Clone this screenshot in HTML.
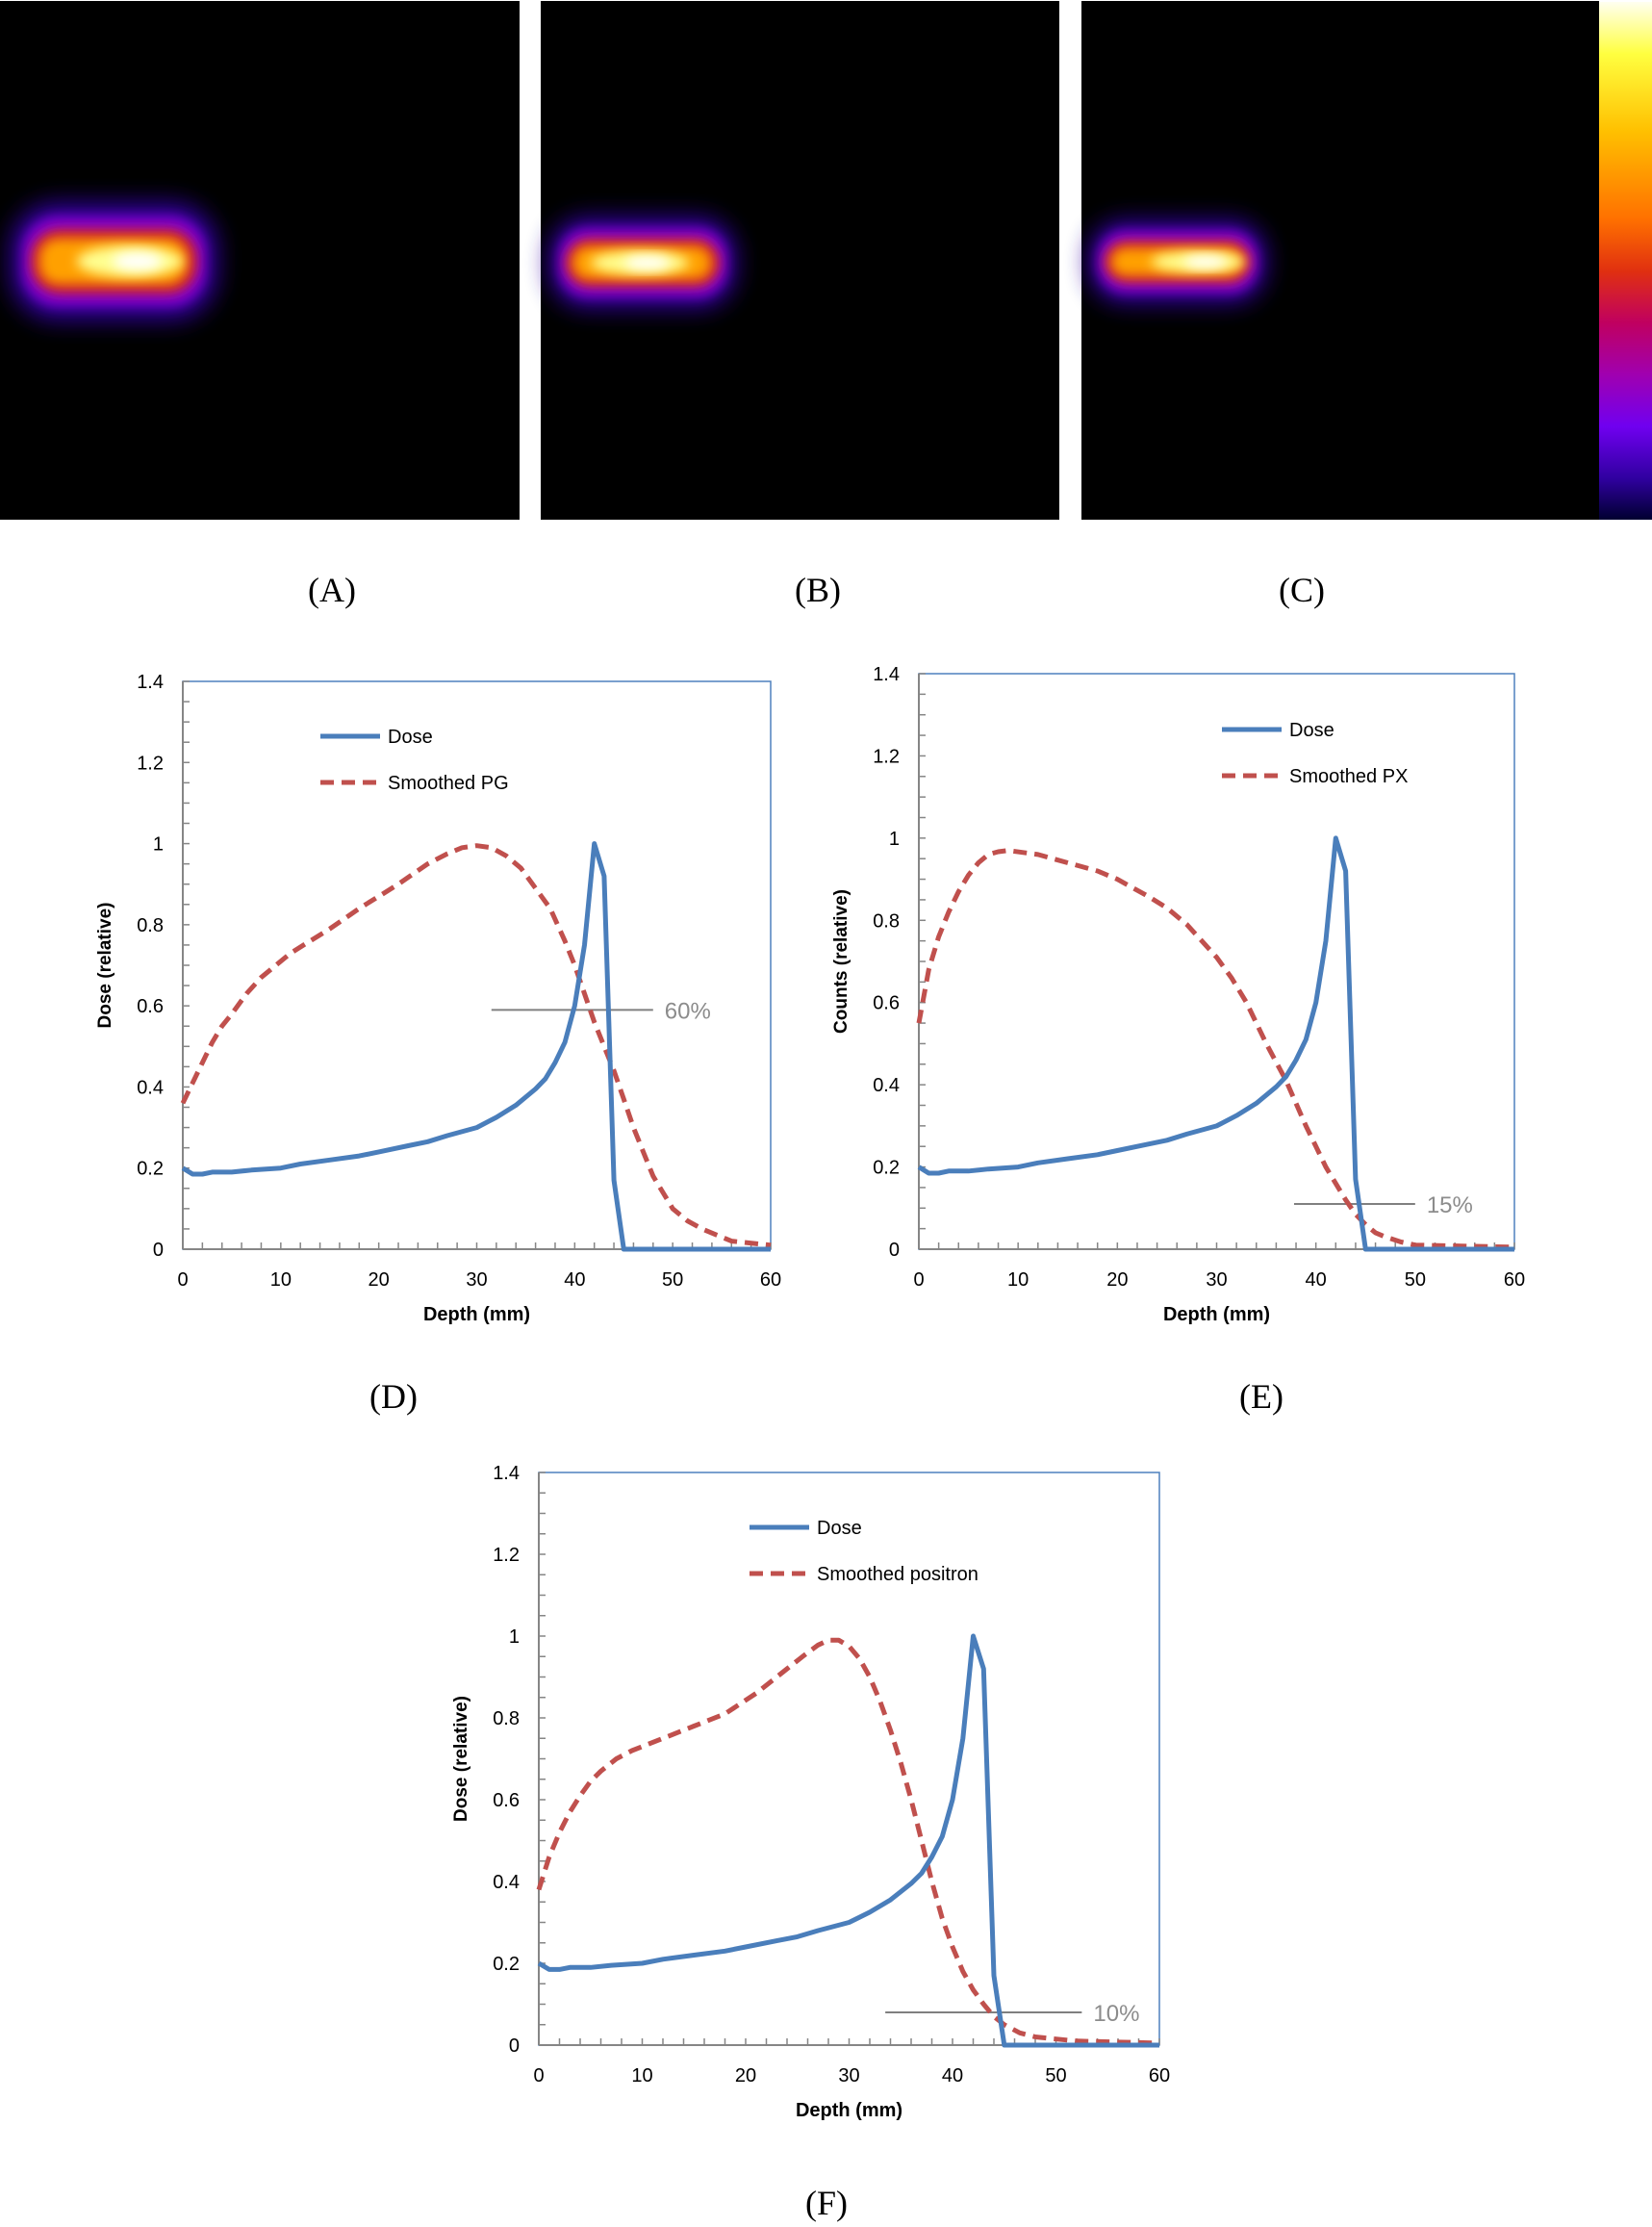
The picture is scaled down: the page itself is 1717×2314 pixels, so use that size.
<!DOCTYPE html>
<html><head><meta charset="utf-8"><style>
body{margin:0;background:#fff;width:1717px;height:2314px;overflow:hidden;position:relative;font-family:"Liberation Serif",serif}
.lab{position:absolute;font-size:36px;transform:translateX(-50%)}
svg{position:absolute;left:0;top:0}
</style></head><body>
<svg width="1717" height="2314" id="s" xmlns="http://www.w3.org/2000/svg">
<defs>
<filter id="b1" x="-50%" y="-50%" width="200%" height="200%"><feGaussianBlur stdDeviation="12"/></filter>
<filter id="b2" x="-50%" y="-50%" width="200%" height="200%"><feGaussianBlur stdDeviation="6"/></filter>
<linearGradient id="cb" x1="0" y1="0" x2="0" y2="1">
<stop offset="0" stop-color="#fffff0"/><stop offset="0.1" stop-color="#ffff40"/><stop offset="0.25" stop-color="#ffc000"/><stop offset="0.42" stop-color="#ff7000"/><stop offset="0.52" stop-color="#e03010"/><stop offset="0.62" stop-color="#c00060"/><stop offset="0.72" stop-color="#a000b0"/><stop offset="0.82" stop-color="#7000f0"/><stop offset="0.92" stop-color="#3000a0"/><stop offset="1" stop-color="#000030"/></linearGradient>
</defs>
<rect x="0" y="1" width="540" height="539" fill="#000"/>
<rect x="562" y="1" width="539" height="539" fill="#000"/>
<rect x="1124" y="1" width="538" height="539" fill="#000"/>
<rect x="1662" y="2" width="55" height="538" fill="url(#cb)"/>
<g id="heat"></g>
</svg>
<div class="lab" style="left:345px;top:592px">(A)</div>
<div class="lab" style="left:850px;top:592px">(B)</div>
<div class="lab" style="left:1353px;top:592px">(C)</div>
<div class="lab" style="left:409px;top:1430px">(D)</div>
<div class="lab" style="left:1311px;top:1430px">(E)</div>
<div class="lab" style="left:859px;top:2268px">(F)</div>
<script>
var NS="http://www.w3.org/2000/svg",S=document.getElementById('s');
function el(t,a,p,txt){if(typeof p==='string'){txt=p;p=null;}var e=document.createElementNS(NS,t);for(var k in a)e.setAttribute(k,a[k]);if(txt!=null)e.textContent=txt;(p||S).appendChild(e);return e;}
var H=document.getElementById('heat');
function blob(x0,x1,y0,y1,cx,s){
 el('rect',{x:x0-20*s,y:y0-26*s,width:x1-x0+40*s,height:y1-y0+52*s,rx:45*s,fill:'#3000a0',filter:'url(#b1)',opacity:0.9},H);
 el('rect',{x:x0-8*s,y:y0-12*s,width:x1-x0+16*s,height:y1-y0+24*s,rx:34*s,fill:'#8000d0',filter:'url(#b2)'},H);
 el('rect',{x:x0,y:y0,width:x1-x0,height:y1-y0,rx:28*s,fill:'#d02020',filter:'url(#b2)'},H);
 el('rect',{x:x0+8*s,y:y0+9*s,width:x1-x0-18*s,height:y1-y0-18*s,rx:18*s,fill:'#ffa000',filter:'url(#b2)'},H);
 el('ellipse',{cx:cx,cy:(y0+y1)/2,rx:(x1-x0)*0.32,ry:(y1-y0)*0.24,fill:'#ffff90',filter:'url(#b2)'},H);
 el('ellipse',{cx:cx+8,cy:(y0+y1)/2,rx:(x1-x0)*0.15,ry:(y1-y0)*0.14,fill:'#fff',filter:'url(#b2)'},H);
}
blob(32,205,238,305,135,1.1);
blob(588,748,248,298,665,0.9);
blob(1148,1300,250,294,1245,0.85);
var dose=[[0,.2],[1,.185],[2,.185],[3,.19],[5,.19],[7,.195],[10,.2],[12,.21],[15,.22],[18,.23],[20,.24],[23,.255],[25,.265],[27,.28],[30,.3],[32,.325],[34,.355],[36,.395],[37,.42],[38,.46],[39,.51],[40,.6],[41,.75],[42,1.0],[43,.92],[44,.17],[45,0],[60,0]];
var pg=[[0,.36],[1,.41],[2,.46],[3,.51],[4,.55],[5,.58],[6.5,.63],[8,.67],[9.5,.70],[11,.73],[13,.76],[15,.79],[18,.84],[20,.87],[22,.9],[25,.95],[27,.975],[28.5,.99],[30,.995],[31.5,.99],[33,.97],[34.5,.94],[36,.89],[37.5,.84],[39,.76],[40,.7],[41,.63],[42,.56],[43,.5],[44,.44],[45,.37],[46,.3],[47,.24],[48,.18],[49,.14],[50,.1],[51.5,.07],[53,.05],[56,.02],[60,.01]];
var px=[[0,.55],[1,.68],[2,.76],[3,.82],[4,.87],[5,.91],[6,.94],[7,.96],[8,.967],[9,.97],[12,.96],[15,.94],[18,.92],[20,.9],[23,.86],[25,.83],[27,.79],[28.5,.75],[30,.71],[31.5,.66],[33,.6],[34,.55],[35,.5],[36,.455],[37,.41],[38,.355],[39,.3],[40,.25],[41,.2],[42,.16],[43,.12],[44,.085],[45,.06],[46,.04],[47,.03],[48.5,.018],[50,.01],[60,.005]];
var po=[[0,.38],[1,.46],[2,.52],[3,.57],[4,.61],[5,.645],[6,.67],[7.5,.7],[9,.72],[12,.75],[15,.78],[18,.81],[21,.86],[22.5,.89],[24,.92],[25.5,.95],[27,.978],[28,.99],[29,.99],[30,.975],[31,.945],[32,.9],[33,.84],[34,.77],[35,.69],[36,.6],[37,.5],[38,.4],[39,.31],[40,.24],[41,.18],[42,.135],[43,.1],[44,.07],[45,.05],[46.5,.03],[48,.02],[52,.01],[60,.005]];
function chart(L,T,R,B,ytitle,red,redName,refY,refX0,refX1,refTxt,lgx,lgy){
 var sx=function(x){return L+(R-L)*x/60},sy=function(y){return B-(B-T)*y/1.4};
 el('rect',{x:L,y:T,width:R-L,height:B-T,fill:'none',stroke:'#4f81bd','stroke-width':1.5});
 el('line',{x1:L,y1:T,x2:L,y2:B,stroke:'#868686','stroke-width':2});
 el('line',{x1:L,y1:B,x2:R,y2:B,stroke:'#868686','stroke-width':2});
 for(var i=0;i<=28;i++){var y=sy(i*0.05);el('line',{x1:L,y1:y,x2:L+7,y2:y,stroke:'#868686','stroke-width':1.5});}
 for(var i=0;i<=30;i++){var x=sx(i*2);el('line',{x1:x,y1:B,x2:x,y2:B-7,stroke:'#868686','stroke-width':1.5});}
 var yl=['0','0.2','0.4','0.6','0.8','1','1.2','1.4'];
 for(var i=0;i<8;i++)el('text',{x:L-20,y:sy(i*0.2)+7,'text-anchor':'end','font-family':'Liberation Sans, sans-serif','font-size':20,fill:'#000'},null,yl[i]);
 for(var i=0;i<=6;i++)el('text',{x:sx(i*10),y:B+38,'text-anchor':'middle','font-family':'Liberation Sans, sans-serif','font-size':20,fill:'#000'},null,String(i*10));
 el('text',{x:(L+R)/2,y:B+74,'text-anchor':'middle','font-family':'Liberation Sans, sans-serif','font-size':20,'font-weight':'bold'},null,'Depth (mm)');
 var yc=(T+B)/2;
 el('text',{x:0,y:0,transform:'translate('+(L-75)+','+yc+') rotate(-90)','text-anchor':'middle','font-family':'Liberation Sans, sans-serif','font-size':19,'font-weight':'bold'},null,ytitle);
 el('line',{x1:sx(refX0),y1:sy(refY),x2:sx(refX1),y2:sy(refY),stroke:'#808080','stroke-width':2});
 el('text',{x:sx(refX1)+12,y:sy(refY)+9,'font-family':'Liberation Sans, sans-serif','font-size':24,fill:'#8c8c8c'},null,refTxt);
 function pts(a){return a.map(function(p){return sx(p[0]).toFixed(1)+','+sy(p[1]).toFixed(1)}).join(' ');}
 el('polyline',{points:pts(red),fill:'none',stroke:'#c0504d','stroke-width':5,'stroke-dasharray':'14,8','stroke-linejoin':'round'});
 el('polyline',{points:pts(dose),fill:'none',stroke:'#4a7ebb','stroke-width':5,'stroke-linejoin':'round'});
 el('line',{x1:L+lgx,y1:T+lgy,x2:L+lgx+62,y2:T+lgy,stroke:'#4a7ebb','stroke-width':5});
 el('text',{x:L+lgx+70,y:T+lgy+7,'font-family':'Liberation Sans, sans-serif','font-size':20},null,'Dose');
 el('line',{x1:L+lgx,y1:T+lgy+48,x2:L+lgx+62,y2:T+lgy+48,stroke:'#c0504d','stroke-width':5,'stroke-dasharray':'14,8'});
 el('text',{x:L+lgx+70,y:T+lgy+55,'font-family':'Liberation Sans, sans-serif','font-size':20},null,redName);
}
chart(190,708,801,1298,'Dose (relative)',pg,'Smoothed PG',0.59,31.5,48,'60%',143,57);
chart(955,700,1574,1298,'Counts (relative)',px,'Smoothed PX',0.11,37.8,50,'15%',315,58);
chart(560,1530,1205,2125,'Dose (relative)',po,'Smoothed positron',0.08,33.5,52.5,'10%',219,57);
</script>
</body></html>
